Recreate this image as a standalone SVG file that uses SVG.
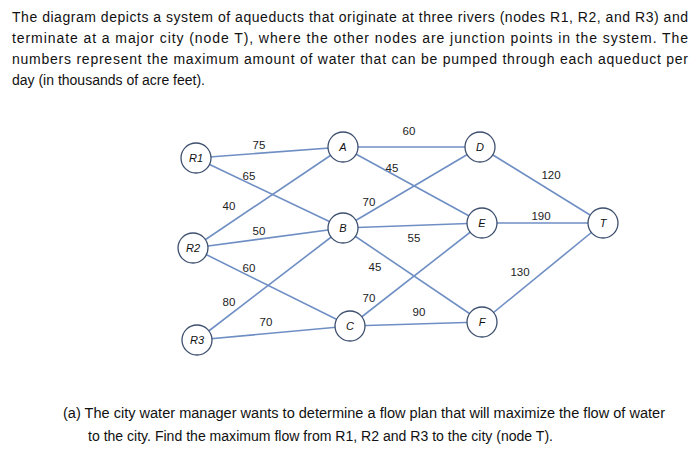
<svg xmlns="http://www.w3.org/2000/svg" width="700" height="450" viewBox="0 0 700 450">
<style>
.t{font-family:"Liberation Sans",Arial,sans-serif;font-size:14px;fill:#111}
.n circle{fill:#fff;stroke:#3d4f6e;stroke-width:1.3}
.n text{font-family:"Liberation Sans",Arial,sans-serif;font-size:11px;font-style:italic;text-anchor:middle;fill:#111}
.e line{stroke:#6f8fc4;stroke-width:1.6}
.l{font-family:"Liberation Sans",Arial,sans-serif;font-size:11.5px;fill:#222;text-anchor:middle}
</style>
<rect width="700" height="450" fill="#fff"/>
<text class="t" x="12" y="22" textLength="676" lengthAdjust="spacing">The diagram depicts a system of aqueducts that originate at three rivers (nodes R1, R2, and R3) and</text>
<text class="t" x="12" y="43" textLength="676" lengthAdjust="spacing">terminate at a major city (node T), where the other nodes are junction points in the system.  The</text>
<text class="t" x="12" y="64" textLength="676" lengthAdjust="spacing">numbers represent the maximum amount of water that can be pumped through each aqueduct per</text>
<text class="t" x="12" y="85">day (in thousands of acre feet).</text>
<g class="e">
<line x1="196" y1="158" x2="343" y2="147"/>
<line x1="196" y1="158" x2="343" y2="228"/>
<line x1="193" y1="248" x2="343" y2="147"/>
<line x1="193" y1="248" x2="343" y2="228"/>
<line x1="193" y1="248" x2="350" y2="326"/>
<line x1="197" y1="340" x2="343" y2="228"/>
<line x1="197" y1="340" x2="350" y2="326"/>
<line x1="343" y1="147" x2="480" y2="147"/>
<line x1="343" y1="147" x2="482" y2="223"/>
<line x1="343" y1="228" x2="480" y2="147"/>
<line x1="343" y1="228" x2="482" y2="223"/>
<line x1="343" y1="228" x2="482" y2="322"/>
<line x1="350" y1="326" x2="482" y2="223"/>
<line x1="350" y1="326" x2="482" y2="322"/>
<line x1="480" y1="147" x2="603" y2="223"/>
<line x1="482" y1="223" x2="603" y2="223"/>
<line x1="482" y1="322" x2="603" y2="223"/>
</g>
<g class="l">
<text x="259" y="149">75</text><text x="249" y="180">65</text><text x="229" y="210">40</text>
<text x="259" y="235">50</text><text x="249" y="272">60</text><text x="229" y="306">80</text>
<text x="266" y="326">70</text><text x="409" y="135">60</text><text x="392" y="172">45</text>
<text x="369" y="206">70</text><text x="414" y="242">55</text><text x="375" y="271">45</text>
<text x="369" y="302">70</text><text x="419" y="316">90</text><text x="551" y="179">120</text>
<text x="541" y="220">190</text><text x="520" y="276">130</text>
</g>
<g id="R1" class="n"><circle cx="196" cy="158" r="15"/><text x="196" y="162">R1</text></g>
<g id="A" class="n"><circle cx="343" cy="147" r="15"/><text x="343" y="151">A</text></g>
<g id="D" class="n"><circle cx="480" cy="147" r="15"/><text x="480" y="151">D</text></g>
<g id="R2" class="n"><circle cx="193" cy="248" r="15"/><text x="193" y="252">R2</text></g>
<g id="B" class="n"><circle cx="343" cy="228" r="15"/><text x="343" y="232">B</text></g>
<g id="E" class="n"><circle cx="482" cy="223" r="15"/><text x="482" y="227">E</text></g>
<g id="T" class="n"><circle cx="603" cy="223" r="15"/><text x="603" y="227">T</text></g>
<g id="R3" class="n"><circle cx="197" cy="340" r="15"/><text x="197" y="344">R3</text></g>
<g id="C" class="n"><circle cx="350" cy="326" r="15"/><text x="350" y="330">C</text></g>
<g id="F" class="n"><circle cx="482" cy="322" r="15"/><text x="482" y="326">F</text></g>
<text class="t" x="63" y="418" textLength="602" lengthAdjust="spacingAndGlyphs">(a)  The city water manager wants to determine a flow plan that will maximize the flow of water</text>
<text class="t" x="88" y="441" textLength="465" lengthAdjust="spacingAndGlyphs">to the city. Find the maximum flow from R1, R2 and R3 to the city (node T).</text>
</svg>
